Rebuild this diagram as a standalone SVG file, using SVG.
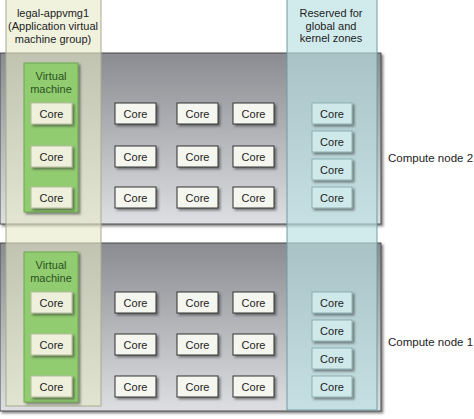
<svg xmlns="http://www.w3.org/2000/svg" width="474" height="419" viewBox="0 0 474 419">
<style>
text{font-family:"Liberation Sans",Arial,sans-serif;font-size:11px;fill:#222;text-anchor:middle}
.node{fill:url(#g);stroke:#4a4a4a;stroke-width:1}
.colg{fill:#e6eac8;fill-opacity:0.6;stroke:#a6ab8c;stroke-width:1}
.colb{fill:#b8e0e4;fill-opacity:0.65;stroke:#6f9ca1;stroke-width:1}
.vm{fill:#91cc70;stroke:#6aa84f;stroke-width:1}
.vmt{fill:#2b5220}
.cg{fill:#eef0dc;stroke:#b7bba0;stroke-width:1}
.cm{fill:#f5f6ef;stroke:#333;stroke-width:1}
.cb{fill:#cfe8ea;stroke:#8db0b3;stroke-width:1}
.lbl{text-anchor:start;font-size:11.5px}
</style>
<defs>
<linearGradient id="g" x1="0" y1="0" x2="0" y2="1">
<stop offset="0" stop-color="#8b8c91"/>
<stop offset="1" stop-color="#dedfe2"/>
</linearGradient>
<filter id="sh" x="-10%" y="-10%" width="130%" height="130%">
<feDropShadow dx="2" dy="2" stdDeviation="1" flood-color="#333" flood-opacity="0.55"/>
</filter>
</defs>
<g id="compute-node-2">
<rect class="node" x="0" y="53" width="381" height="171" filter="url(#sh)"/>
<text class="lbl" x="388" y="162">Compute node 2</text>
</g>
<g id="compute-node-1">
<rect class="node" x="0" y="243" width="381" height="168" filter="url(#sh)"/>
<text class="lbl" x="388" y="346">Compute node 1</text>
</g>
<g id="legal-appvmg1">
<rect class="colg" x="6" y="-1" width="95" height="407"/>
<text x="53" y="17">legal-appvmg1</text>
<text x="53" y="30">(Application virtual</text>
<text x="53" y="43">machine group)</text>
</g>
<g id="reserved">
<rect class="colb" x="287" y="-1" width="90" height="411"/>
<text x="331" y="17">Reserved for</text>
<text x="331" y="30">global and</text>
<text x="331" y="42">kernel zones</text>
</g>
<g id="vm-2">
<rect class="vm" x="24" y="63" width="54" height="149" filter="url(#sh)"/>
<text class="vmt" x="51" y="80">Virtual</text>
<text class="vmt" x="51" y="93">machine</text>
<g filter="url(#sh)">
<rect class="cg" x="31" y="103" width="41" height="21"/>
<rect class="cg" x="31" y="146" width="41" height="21"/>
<rect class="cg" x="31" y="187" width="41" height="21"/>
</g>
<text x="51.5" y="118">Core</text>
<text x="51.5" y="161">Core</text>
<text x="51.5" y="202">Core</text>
</g>
<g id="vm-1">
<rect class="vm" x="24" y="252" width="54" height="150" filter="url(#sh)"/>
<text class="vmt" x="51" y="269">Virtual</text>
<text class="vmt" x="51" y="282">machine</text>
<g filter="url(#sh)">
<rect class="cg" x="31" y="292" width="41" height="21"/>
<rect class="cg" x="31" y="334" width="41" height="21"/>
<rect class="cg" x="31" y="376" width="41" height="21"/>
</g>
<text x="51.5" y="307">Core</text>
<text x="51.5" y="349">Core</text>
<text x="51.5" y="391">Core</text>
</g>
<g id="cores-2">
<g filter="url(#sh)">
<rect class="cm" x="115" y="103" width="41" height="21"/>
<rect class="cm" x="177" y="103" width="41" height="21"/>
<rect class="cm" x="233" y="103" width="41" height="21"/>
<rect class="cm" x="115" y="146" width="41" height="21"/>
<rect class="cm" x="177" y="146" width="41" height="21"/>
<rect class="cm" x="233" y="146" width="41" height="21"/>
<rect class="cm" x="115" y="187" width="41" height="21"/>
<rect class="cm" x="177" y="187" width="41" height="21"/>
<rect class="cm" x="233" y="187" width="41" height="21"/>
</g>
<text x="135.5" y="118">Core</text><text x="197.5" y="118">Core</text><text x="253.5" y="118">Core</text>
<text x="135.5" y="161">Core</text><text x="197.5" y="161">Core</text><text x="253.5" y="161">Core</text>
<text x="135.5" y="202">Core</text><text x="197.5" y="202">Core</text><text x="253.5" y="202">Core</text>
</g>
<g id="cores-1">
<g filter="url(#sh)">
<rect class="cm" x="115" y="292" width="41" height="21"/>
<rect class="cm" x="177" y="292" width="41" height="21"/>
<rect class="cm" x="233" y="292" width="41" height="21"/>
<rect class="cm" x="115" y="334" width="41" height="21"/>
<rect class="cm" x="177" y="334" width="41" height="21"/>
<rect class="cm" x="233" y="334" width="41" height="21"/>
<rect class="cm" x="115" y="376" width="41" height="21"/>
<rect class="cm" x="177" y="376" width="41" height="21"/>
<rect class="cm" x="233" y="376" width="41" height="21"/>
</g>
<text x="135.5" y="307">Core</text><text x="197.5" y="307">Core</text><text x="253.5" y="307">Core</text>
<text x="135.5" y="349">Core</text><text x="197.5" y="349">Core</text><text x="253.5" y="349">Core</text>
<text x="135.5" y="391">Core</text><text x="197.5" y="391">Core</text><text x="253.5" y="391">Core</text>
</g>
<g id="reserved-cores-2">
<g filter="url(#sh)">
<rect class="cb" x="312" y="103" width="40" height="21"/>
<rect class="cb" x="312" y="131" width="40" height="21"/>
<rect class="cb" x="312" y="159" width="40" height="21"/>
<rect class="cb" x="312" y="187" width="40" height="21"/>
</g>
<text x="332" y="118">Core</text><text x="332" y="146">Core</text><text x="332" y="174">Core</text><text x="332" y="202">Core</text>
</g>
<g id="reserved-cores-1">
<g filter="url(#sh)">
<rect class="cb" x="312" y="292" width="40" height="21"/>
<rect class="cb" x="312" y="320" width="40" height="21"/>
<rect class="cb" x="312" y="348" width="40" height="21"/>
<rect class="cb" x="312" y="376" width="40" height="21"/>
</g>
<text x="332" y="307">Core</text><text x="332" y="335">Core</text><text x="332" y="363">Core</text><text x="332" y="391">Core</text>
</g>
<g id="connectors"/>
</svg>
